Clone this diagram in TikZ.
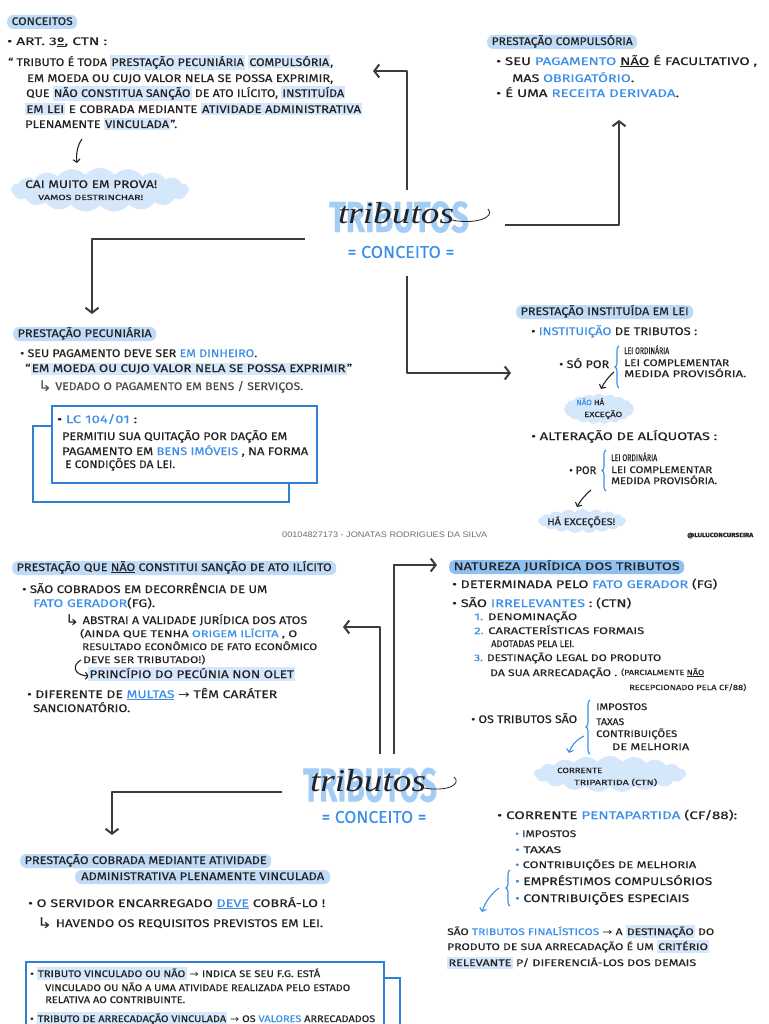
\documentclass[tikz,border=0pt]{standalone}
\usepackage{fontspec}
\usepackage{graphicx}
\setmainfont{Fira Sans}[FakeBold=0.3]
\newfontfamily\symfont{DejaVu Sans}
\newfontfamily\wmfont{Liberation Sans}
\newfontfamily\scriptf{Liberation Serif}
\usetikzlibrary{arrows.meta,shapes.symbols,decorations.pathreplacing,calc}
\definecolor{ink}{HTML}{232323}
\definecolor{conncol}{HTML}{3C3C3C}
\definecolor{tblue}{HTML}{3B8FE8}
\definecolor{hl}{HTML}{D4E7FB}
\definecolor{pill}{HTML}{BFDBF7}
\definecolor{pilldark}{HTML}{8EC1F1}
\definecolor{boxblue}{HTML}{2E80D9}
\definecolor{bigblue}{HTML}{A3CDF5}
\definecolor{wmgray}{HTML}{6E6E6E}
\definecolor{softink}{HTML}{4A4A4A}
\newcommand\W[2]{\resizebox{#1pt}{\height}{#2}}
\newcommand\bl[1]{\textcolor{tblue}{#1}}
\newcommand\hlt[1]{{\setlength{\fboxsep}{1pt}\colorbox{hl}{\rule[-1.5pt]{0pt}{10pt}#1}}}
\newcommand\undl[1]{\underline{#1}}
\newcommand\hook{\raisebox{-1pt}{\scalebox{1.35}{\symfont ↳}}}
\newcommand\rar{{\symfont →}}
\begin{document}
\begin{tikzpicture}[x=1pt,y=-1pt,
  txt/.style={anchor=base west, inner sep=0pt, text=ink, font=\fontsize{11}{12}\selectfont},
  stxt/.style={txt, font=\fontsize{9.5}{10}\selectfont},
  tinytxt/.style={txt, font=\fontsize{7.5}{8}\selectfont},
  pillnode/.style={txt, fill=pill, rounded corners=6pt, inner xsep=4.5pt, inner ysep=2.5pt, text height=7.5pt, text depth=1.5pt},
  conn/.style={draw=conncol, line width=2pt, line join=round, -{Straight Barb[length=5pt,width=13pt]}},
  sarr/.style={draw=ink, line width=1.1pt, -{Straight Barb[length=3pt,width=7pt]}},
  barr/.style={sarr, draw=tblue},
  brc/.style={draw=tblue, line width=1.1pt, decorate, decoration={brace, amplitude=4pt}},
  boxline/.style={draw=boxblue, line width=1.6pt},
  cloudbg/.style={cloud, cloud puffs=19, cloud puff arc=100, cloud ignores aspect, fill=hl, draw=none, inner sep=0pt},
  bigt/.style={text=bigblue, inner sep=0pt, font=\bfseries},
  scriptt/.style={text=ink, inner sep=0pt, font=\scriptf\itshape},
  concept/.style={text=tblue, inner sep=0pt, font=\fontsize{15}{15}\selectfont},
  swoosh/.style={draw=ink, line width=0.8pt}
]
\useasboundingbox (0,0) rectangle (768,1024);
\clip (0,0) rectangle (768,1024);
\fill[white] (0,0) rectangle (768,1024);

% ---------- clouds ----------
\node[cloudbg, minimum width=178pt, minimum height=44pt] (cprova) at (100,190) {};
\node[cloudbg, minimum width=70pt, minimum height=30pt] (cnaoha) at (599,409) {};
\node[cloudbg, minimum width=88pt, minimum height=24pt] (chaex) at (582,521) {};
\node[cloudbg, minimum width=152pt, minimum height=36pt] (ctri) at (610,774) {};

% ---------- titles ----------
\node[bigt] (tit1) at (399,217) {\resizebox{140pt}{31pt}{TRIBUTOS}};
\node[scriptt] (scr1) at (396,213) {\resizebox{116pt}{21pt}{tributos}};
\draw[swoosh] (452,220) .. controls (475,225) and (496,217) .. (488,209);
\node[concept] (con1) at (401,252) {\resizebox{107pt}{12pt}{= CONCEITO =}};

\node[bigt] (tit2) at (370,785) {\resizebox{134pt}{34pt}{TRIBUTOS}};
\node[scriptt] (scr2) at (368,781) {\resizebox{116pt}{22pt}{tributos}};
\draw[swoosh] (424,788) .. controls (448,792) and (462,784) .. (454,777);
\node[concept] (con2) at (374,817) {\resizebox{105pt}{12pt}{= CONCEITO =}};

% ---------- connectors ----------
\coordinate (u1a) at (407,190); \coordinate (u1b) at (373,71);
\draw[conn] (u1a) |- (u1b);
\coordinate (u2a) at (505,225); \coordinate (u2b) at (619,120);
\draw[conn] (u2a) -| (u2b);
\coordinate (u3a) at (305,239); \coordinate (u3b) at (92,314);
\draw[conn] (u3a) -| (u3b);
\coordinate (u4a) at (407,276); \coordinate (u4b) at (511,373);
\draw[conn] (u4a) |- (u4b);
\coordinate (l1a) at (380,754); \coordinate (l1b) at (343,627);
\draw[conn] (l1a) |- (l1b);
\coordinate (l2a) at (394,754); \coordinate (l2b) at (437,565);
\draw[conn] (l2a) |- (l2b);
\coordinate (l3a) at (282,792); \coordinate (l3b) at (112,835);
\draw[conn] (l3a) -| (l3b);

% ---------- top left ----------
\node[pillnode] (conc) at (7,25) {\W{61}{CONCEITOS}};
\node[txt] (art) at (7,45) {\W{100}{• ART. 3\undl{º}, CTN :}};
\node[txt] (q1) at (8,66) {\W{325}{“ TRIBUTO É TODA \hlt{PRESTAÇÃO PECUNIÁRIA} \hlt{COMPULSÓRIA},}};
\node[txt] (q2) at (27,82) {\W{306}{EM MOEDA OU CUJO VALOR NELA SE POSSA EXPRIMIR,}};
\node[txt] (q3) at (26,97) {\W{319}{QUE \hlt{NÃO CONSTITUA SANÇÃO} DE ATO ILÍCITO, \hlt{INSTITUÍDA}}};
\node[txt] (q4) at (25,113) {\W{337}{\hlt{EM LEI} E COBRADA MEDIANTE \hlt{ATIVIDADE ADMINISTRATIVA}}};
\node[txt] (q5) at (25,128) {\W{152}{PLENAMENTE \hlt{VINCULADA}”.}};
\coordinate (a1s) at (82,139); \coordinate (a1e) at (77,163);
\draw[sarr] (a1s) .. controls (77,146) and (76,155) .. (a1e);
\node[txt] (prova) at (25,188) {\W{132}{CAI MUITO EM PROVA!}};
\node[tinytxt] (destr) at (38,200) {\W{105}{VAMOS DESTRINCHAR!}};

% ---------- top right ----------
\node[pillnode] (comp) at (487,45) {\W{141}{PRESTAÇÃO COMPULSÓRIA}};
\node[txt] (c1) at (496,65) {\W{261}{• SEU \bl{PAGAMENTO} \undl{NÃO} É FACULTATIVO ,}};
\node[txt] (c2) at (512,82) {\W{122}{MAS \bl{OBRIGATÓRIO}.}};
\node[txt] (c3) at (496,97) {\W{183}{• É UMA \bl{RECEITA DERIVADA}.}};

% ---------- middle left ----------
\node[pillnode] (pec) at (13,337) {\W{134}{PRESTAÇÃO PECUNIÁRIA}};
\node[txt] (p1) at (20,357) {\W{237}{• SEU PAGAMENTO DEVE SER \bl{EM DINHEIRO}.}};
\node[txt] (p2) at (25,372) {\W{327}{“\hlt{EM MOEDA OU CUJO VALOR NELA SE POSSA EXPRIMIR}”}};
\node[txt, text=softink] (p3) at (38,390) {\W{265}{\hook\ VEDADO O PAGAMENTO EM BENS / SERVIÇOS.}};
\draw[boxline] (33,426) rectangle (289,502);
\draw[boxline, fill=white] (52,406) rectangle (317,483);
\node[txt] (lc1) at (57,423) {\W{80}{• \bl{LC 104/01} :}};
\node[txt] (lc2) at (62,440) {\W{225}{PERMITIU SUA QUITAÇÃO POR DAÇÃO EM}};
\node[txt] (lc3) at (62,455) {\W{246}{PAGAMENTO EM \bl{BENS IMÓVEIS} , NA FORMA}};
\node[txt] (lc4) at (65,468) {\W{110}{E CONDIÇÕES DA LEI.}};

% ---------- middle right ----------
\node[pillnode] (inst) at (516,315) {\W{168}{PRESTAÇÃO INSTITUÍDA EM LEI}};
\node[txt] (i1) at (531,335) {\W{166}{• \bl{INSTITUIÇÃO} DE TRIBUTOS :}};
\node[txt] (i2) at (559,368) {\W{50}{• SÓ POR}};
\draw[brc] (619,388) -- (619,346);
\node[stxt] (i3) at (624,354) {\W{45}{LEI ORDINÁRIA}};
\node[stxt] (i4) at (624,366) {\W{105}{LEI COMPLEMENTAR}};
\node[stxt] (i5) at (624,377) {\W{122}{MEDIDA PROVISÓRIA.}};
\coordinate (a2s) at (614,372); \coordinate (a2e) at (601,389);
\draw[sarr] (a2s) .. controls (608,377) and (604,383) .. (a2e);
\node[tinytxt] (nh1) at (576,405) {\W{28}{\bl{NÃO} HÁ}};
\node[tinytxt] (nh2) at (584,417) {\W{38}{EXCEÇÃO}};
\node[txt] (i6) at (531,440) {\W{186}{• ALTERAÇÃO DE ALÍQUOTAS :}};
\node[txt] (i7) at (569,474) {\W{27}{• POR}};
\draw[brc] (606,491) -- (606,450);
\node[stxt] (i8) at (611,461) {\W{46}{LEI ORDINÁRIA}};
\node[stxt] (i9) at (611,473) {\W{101}{LEI COMPLEMENTAR}};
\node[stxt] (i10) at (611,484) {\W{106}{MEDIDA PROVISÓRIA.}};
\coordinate (a3s) at (591,490); \coordinate (a3e) at (577,507);
\draw[sarr] (a3s) .. controls (585,495) and (580,501) .. (a3e);
\node[stxt] (hex) at (547,525) {\W{68}{HÁ EXCEÇÕES!}};

% ---------- watermark ----------
\node[anchor=base west, inner sep=0pt, text=wmgray, font=\wmfont\fontsize{8}{9}\selectfont] (wm) at (282,537) {\W{205}{00104827173 - JONATAS RODRIGUES DA SILVA}};
\node[anchor=base west, inner sep=0pt, text=ink, font=\fontsize{6}{7}\selectfont\bfseries] (insta) at (687,537) {\W{66}{@LULUCONCURSEIRA}};

% ---------- lower left ----------
\node[pillnode] (ilic) at (12,571) {\W{315}{PRESTAÇÃO QUE \undl{NÃO} CONSTITUI SANÇÃO DE ATO ILÍCITO}};
\node[txt] (s1) at (22,593) {\W{245}{• SÃO COBRADOS EM DECORRÊNCIA DE UM}};
\node[txt] (s2) at (33,607) {\W{122}{\bl{FATO GERADOR}(FG).}};
\node[txt] (s3) at (65,624) {\W{242}{\hook\ ABSTRAI A VALIDADE JURÍDICA DOS ATOS}};
\node[stxt] (s4) at (80,637) {\W{217}{(AINDA QUE TENHA \bl{ORIGEM ILÍCITA} , O}};
\node[stxt] (s5) at (82,650) {\W{235}{RESULTADO ECONÔMICO DE FATO ECONÔMICO}};
\node[stxt] (s6) at (83,663) {\W{122}{DEVE SER TRIBUTADO!)}};
\coordinate (a4s) at (81,660); \coordinate (a4e) at (89,676);
\draw[sarr] (a4s) .. controls (72,665) and (73,675) .. (a4e);
\node[txt] (s7) at (88,678) {\W{207}{\hlt{PRINCÍPIO DO PECÚNIA NON OLET}}};
\node[txt] (s8) at (27,698) {\W{250}{• DIFERENTE DE \bl{\undl{MULTAS}} \rar\ TÊM CARÁTER}};
\node[txt] (s9) at (33,712) {\W{97}{SANCIONATÓRIO.}};

% ---------- lower right ----------
\node[pillnode, fill=pilldark] (nat) at (449,570) {\W{226}{NATUREZA JURÍDICA DOS TRIBUTOS}};
\node[txt] (n1) at (452,588) {\W{265}{• DETERMINADA PELO \bl{FATO GERADOR} (FG)}};
\node[txt] (n2) at (452,607) {\W{179}{• SÃO \bl{IRRELEVANTES} : (CTN)}};
\node[stxt] (n3) at (474,620) {\W{103}{\bl{1.} DENOMINAÇÃO}};
\node[stxt] (n4) at (474,634) {\W{170}{\bl{2.} CARACTERÍSTICAS FORMAIS}};
\node[stxt] (n5) at (491,647) {\W{83}{ADOTADAS PELA LEI.}};
\node[stxt] (n6) at (474,661) {\W{187}{\bl{3.} DESTINAÇÃO LEGAL DO PRODUTO}};
\node[stxt] (n7) at (490,676) {\W{127}{DA SUA ARRECADAÇÃO .}};
\node[tinytxt] (n8) at (621,675) {\W{83}{(PARCIALMENTE \undl{NÃO}}};
\node[tinytxt] (n9) at (629,690) {\W{117}{RECEPCIONADO PELA CF/88)}};
\node[txt] (n10) at (471,723) {\W{106}{• OS TRIBUTOS SÃO}};
\draw[brc] (590,754) -- (590,700);
\node[stxt] (n11) at (596,710) {\W{51}{IMPOSTOS}};
\node[stxt] (n12) at (596,725) {\W{28}{TAXAS}};
\node[stxt] (n13) at (596,737) {\W{81}{CONTRIBUIÇÕES}};
\node[stxt] (n14) at (612,750) {\W{77}{DE MELHORIA}};
\coordinate (a5s) at (584,736); \coordinate (a5e) at (569,753);
\draw[barr] (a5s) .. controls (576,740) and (571,746) .. (a5e);
\node[tinytxt] (n15) at (557,773) {\W{45}{CORRENTE}};
\node[tinytxt] (n16) at (574,785) {\W{83}{TRIPARTIDA (CTN)}};
\node[txt] (n17) at (497,819) {\W{240}{• CORRENTE \bl{PENTAPARTIDA} (CF/88):}};
\node[stxt] (n18) at (515,837) {\W{61}{\bl{•} IMPOSTOS}};
\node[stxt] (n19) at (515,853) {\W{46}{\bl{•} TAXAS}};
\node[stxt] (n20) at (515,868) {\W{181}{\bl{•} CONTRIBUIÇÕES DE MELHORIA}};
\node[txt] (n21) at (515,885) {\W{197}{\bl{•} EMPRÉSTIMOS COMPULSÓRIOS}};
\node[txt] (n22) at (515,902) {\W{174}{\bl{•} CONTRIBUIÇÕES ESPECIAIS}};
\draw[brc] (510,906) -- (510,870);
\coordinate (a6s) at (499,888); \coordinate (a6e) at (482,912);
\draw[barr] (a6s) .. controls (492,893) and (485,902) .. (a6e);
\node[stxt] (f1) at (447,935) {\W{267}{SÃO \bl{TRIBUTOS FINALÍSTICOS} \rar\ A \hlt{DESTINAÇÃO} DO}};
\node[stxt] (f2) at (447,950) {\W{262}{PRODUTO DE SUA ARRECADAÇÃO É UM \hlt{CRITÉRIO}}};
\node[stxt] (f3) at (447,966) {\W{249}{\hlt{RELEVANTE} P/ DIFERENCIÁ-LOS DOS DEMAIS}};

% ---------- bottom left ----------
\node[pillnode] (cob1) at (20,864) {\W{242}{PRESTAÇÃO COBRADA MEDIANTE ATIVIDADE}};
\node[pillnode, inner xsep=6pt] (cob2) at (75,880) {\W{243}{ADMINISTRATIVA PLENAMENTE VINCULADA}};
\node[txt] (b1) at (28,907) {\W{297}{• O SERVIDOR ENCARREGADO \bl{\undl{DEVE}} COBRÁ-LO !}};
\node[txt] (b2) at (37,927) {\W{286}{\hook\ HAVENDO OS REQUISITOS PREVISTOS EM LEI.}};
\draw[boxline] (378,978) -- (400,978) -- (400,1040);
\draw[boxline, fill=white] (26,962) rectangle (384,1045);
\node[stxt] (v1) at (30,977) {\W{290}{• \hlt{TRIBUTO VINCULADO OU NÃO} \rar\ INDICA SE SEU F.G. ESTÁ}};
\node[stxt] (v2) at (45,991) {\W{305}{VINCULADO OU NÃO A UMA ATIVIDADE REALIZADA PELO ESTADO}};
\node[stxt] (v3) at (45,1003) {\W{140}{RELATIVA AO CONTRIBUINTE.}};
\node[stxt] (v4) at (30,1022) {\W{345}{• \hlt{TRIBUTO DE ARRECADAÇÃO VINCULADA} \rar\ OS \bl{VALORES} ARRECADADOS}};
\end{tikzpicture}
\end{document}
